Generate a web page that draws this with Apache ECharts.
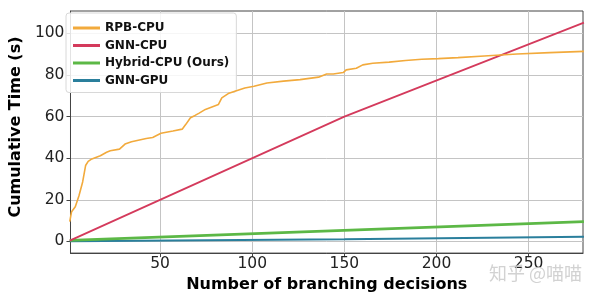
<!DOCTYPE html>
<html>
<head>
<meta charset="utf-8">
<script src="https://cdn.jsdelivr.net/npm/echarts@6/dist/echarts.min.js"></script>
<style>html,body{margin:0;padding:0;background:#fff}#c{width:600px;height:298px}</style>
</head>
<body>
<div id="c"></div>
<script>
const seriesNames = ['RPB-CPU', 'GNN-CPU', 'Hybrid-CPU (Ours)', 'GNN-GPU'];
const xTicks = [50, 100, 150, 200, 250];
const yTicks = [0, 20, 40, 60, 80, 100];

const rpbX = [1, 2, 4, 6, 8, 9.6, 11, 13, 17.6, 21, 23, 28, 31, 34.5, 42.5, 46, 50.5, 57, 62, 64, 66.5, 69, 71, 74.6, 81.7, 83.5, 87, 90.6, 96, 101, 108, 117, 126, 136, 140.4, 144, 149.4, 151, 156.5, 160, 165.4, 174.3, 183.2, 192, 201, 211.7, 225.9, 243.7, 261.5, 280];
const rpbY = [9.5, 14.3, 16.7, 22, 28.6, 36.5, 38.5, 39.7, 41.2, 42.9, 43.6, 44.4, 46.8, 47.9, 49.5, 50, 52, 53.1, 54, 56.3, 59.5, 60.6, 61.6, 63.5, 65.9, 69, 71.1, 72.2, 73.8, 74.6, 76.2, 77.1, 77.8, 79, 80.5, 80.5, 81.2, 82.5, 83.3, 84.9, 85.7, 86.2, 87, 87.6, 87.9, 88.4, 89.2, 90.1, 90.8, 91.4];

const gnnCpuX = [1, 150, 280];
const gnnCpuY = [0.4, 60, 105.2];

const hybridX = [1, 280];
const hybridY = [0.5, 9.5];

const gnnGpuX = [1, 150, 280];
const gnnGpuY = [0.1, 1.0, 2.3];

const colors = ['#f2aa3c', '#d43a5c', '#5cb846', '#2a7f9c'];
const widths = [1.6, 1.8, 2.8, 2.0];

const pairs = (xs, ys) => xs.map((x, i) => [x, ys[i]]);
const allData = [pairs(rpbX, rpbY), pairs(gnnCpuX, gnnCpuY), pairs(hybridX, hybridY), pairs(gnnGpuX, gnnGpuY)];

const FONT = 'DejaVu Sans';
const chart = echarts.init(document.getElementById('c'), null, {renderer: 'canvas'});
chart.setOption({
  animation: false,
  backgroundColor: '#fff',
  grid: {left: 63, right: 17, top: 11, bottom: 43, show: true, borderColor: '#444', borderWidth: 1, backgroundColor: 'transparent'},
  legend: {
    orient: 'vertical', left: 66, top: 13,
    data: seriesNames.map((n, i) => ({name: n, icon: 'rect', itemStyle: {color: colors[i]}})),
    backgroundColor: 'rgba(255,255,255,0.85)',
    borderColor: '#d8d8d8', borderWidth: 1, borderRadius: 3,
    padding: [8, 7, 5, 7],
    itemWidth: 27, itemHeight: 3, itemGap: 3.5,
    textStyle: {fontFamily: FONT, fontWeight: 'bold', fontSize: 12, color: '#111', padding: [0, 0, 0, 0], lineHeight: 14}
  },
  xAxis: {
    type: 'value', min: 1.4, max: 279.5,
    name: 'Number of branching decisions', nameLocation: 'middle', nameGap: 16,
    nameTextStyle: {fontFamily: FONT, fontWeight: 'bold', fontSize: 16, color: '#000'},
    axisLine: {show: true, onZero: false, lineStyle: {color: '#444', width: 1}},
    axisTick: {show: true, length: 4, lineStyle: {color: '#444'}, customValues: xTicks},
    axisLabel: {fontFamily: FONT, fontSize: 15.5, color: '#222', margin: 3, customValues: xTicks},
    splitLine: {show: true, lineStyle: {color: '#c4c4c4', width: 1}}
  },
  yAxis: {
    type: 'value', min: -5.6, max: 110.8,
    name: 'Cumulative Time (s)', nameLocation: 'middle', nameGap: 33, nameRotate: 90,
    nameTextStyle: {fontFamily: FONT, fontWeight: 'bold', fontSize: 16, color: '#000', padding: [0, 0, 0, 10]},
    axisLine: {show: true, onZero: false, lineStyle: {color: '#444', width: 1}},
    axisTick: {show: true, length: 4, lineStyle: {color: '#444'}, customValues: yTicks},
    axisLabel: {fontFamily: FONT, fontSize: 15.5, color: '#222', margin: 6, customValues: yTicks},
    splitLine: {show: true, lineStyle: {color: '#c4c4c4', width: 1}}
  },
  series: seriesNames.map((n, i) => ({
    name: n, type: 'line', data: allData[i], symbol: 'none', showSymbol: false,
    lineStyle: {color: colors[i], width: widths[i]}, itemStyle: {color: colors[i]},
    z: 10 - i, silent: true
  })),
  graphic: [{
    type: 'text', left: 489, top: 264, z: 100,
    style: {text: '知乎 @喵喵', fontFamily: 'Noto Sans CJK SC', fontSize: 18, fill: 'rgba(205,205,205,0.9)'}
  }]
});
</script>
</body>
</html>
